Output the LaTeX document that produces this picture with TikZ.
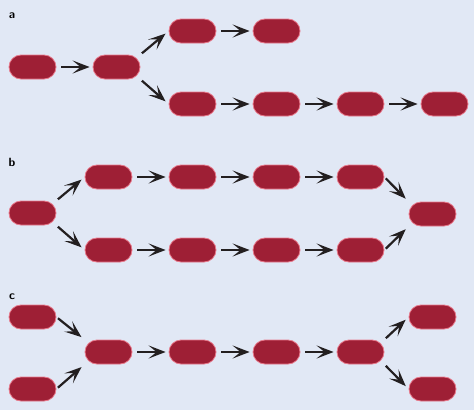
\documentclass[tikz,border=0pt]{standalone}
\usepackage{tikz}
\usetikzlibrary{arrows.meta, calc}

\definecolor{panelbg}{RGB}{225,232,245}
\definecolor{cellred}{RGB}{158,31,53}
\definecolor{cellrim}{RGB}{232,120,138}
\definecolor{arrowgrey}{RGB}{35,31,32}

\begin{document}
\begin{tikzpicture}[x=1pt, y=-1pt,
    cell/.style={draw=cellrim, line width=0.8pt, fill=cellred,
      rounded corners=12pt, minimum width=47pt, minimum height=24pt,
      inner sep=0pt},
    flow/.style={draw=arrowgrey, line width=2.2pt,
      -{Stealth[length=17pt, width=13pt, inset=8pt]},
      shorten <=5pt, shorten >=3pt},
    fork/.style={flow, shorten <=2pt, shorten >=4pt},
    panel/.style={font=\sffamily\bfseries\large, inner sep=0pt}]

  % background and bounding box
  \fill[panelbg] (0,0) rectangle (474,410);

  % panel labels
  \node[panel] (la) at (12,16)  {a};
  \node[panel] (lb) at (12,162) {b};
  \node[panel] (lc) at (12,297) {c};

  % ---- a: one line splits into two
  \node[cell] (a1) at (32.5,67)  {};
  \node[cell] (a2) at (116.5,67) {};
  \node[cell] (a3) at (192.5,31) {};
  \node[cell] (a4) at (276.5,31) {};
  \foreach \n/\x in {5/192.5, 6/276.5, 7/360.5, 8/444.5}
    \node[cell] (a\n) at (\x,104) {};

  \draw[flow] (a1) -- (a2);
  \draw[fork] (a2.north east) -- (a3.west);
  \draw[fork] (a2.south east) -- (a5.west);
  \draw[flow] (a3) -- (a4);
  \foreach \i/\j in {5/6, 6/7, 7/8}
    \draw[flow] (a\i) -- (a\j);

  % ---- b: two branches joining again
  \node[cell] (b1) at (32.5,213) {};
  \foreach \n/\x in {2/108.5, 3/192.5, 4/276.5, 5/360.5}
    \node[cell] (b\n) at (\x,177) {};
  \foreach \n/\x in {6/108.5, 7/192.5, 8/276.5, 9/360.5}
    \node[cell] (b\n) at (\x,250) {};
  \node[cell] (b10) at (432.5,214) {};

  \draw[fork] (b1.north east) -- (b2.west);
  \draw[fork] (b1.south east) -- (b6.west);
  \foreach \i/\j in {2/3, 3/4, 4/5, 6/7, 7/8, 8/9}
    \draw[flow] (b\i) -- (b\j);
  \draw[fork] (b5.east) -- (b10.north west);
  \draw[fork] (b9.east) -- (b10.south west);

  % ---- c: two lines merge, then split
  \node[cell] (c1) at (32.5,317) {};
  \node[cell] (c2) at (32.5,389) {};
  \foreach \n/\x in {3/108.5, 4/192.5, 5/276.5, 6/360.5}
    \node[cell] (c\n) at (\x,352) {};
  \node[cell] (c7) at (432.5,317) {};
  \node[cell] (c8) at (432.5,389) {};

  \draw[fork] (c1.east) -- (c3.north west);
  \draw[fork] (c2.east) -- (c3.south west);
  \foreach \i/\j in {3/4, 4/5, 5/6}
    \draw[flow] (c\i) -- (c\j);
  \draw[fork] (c6.north east) -- (c7.west);
  \draw[fork] (c6.south east) -- (c8.west);
\end{tikzpicture}
\end{document}
